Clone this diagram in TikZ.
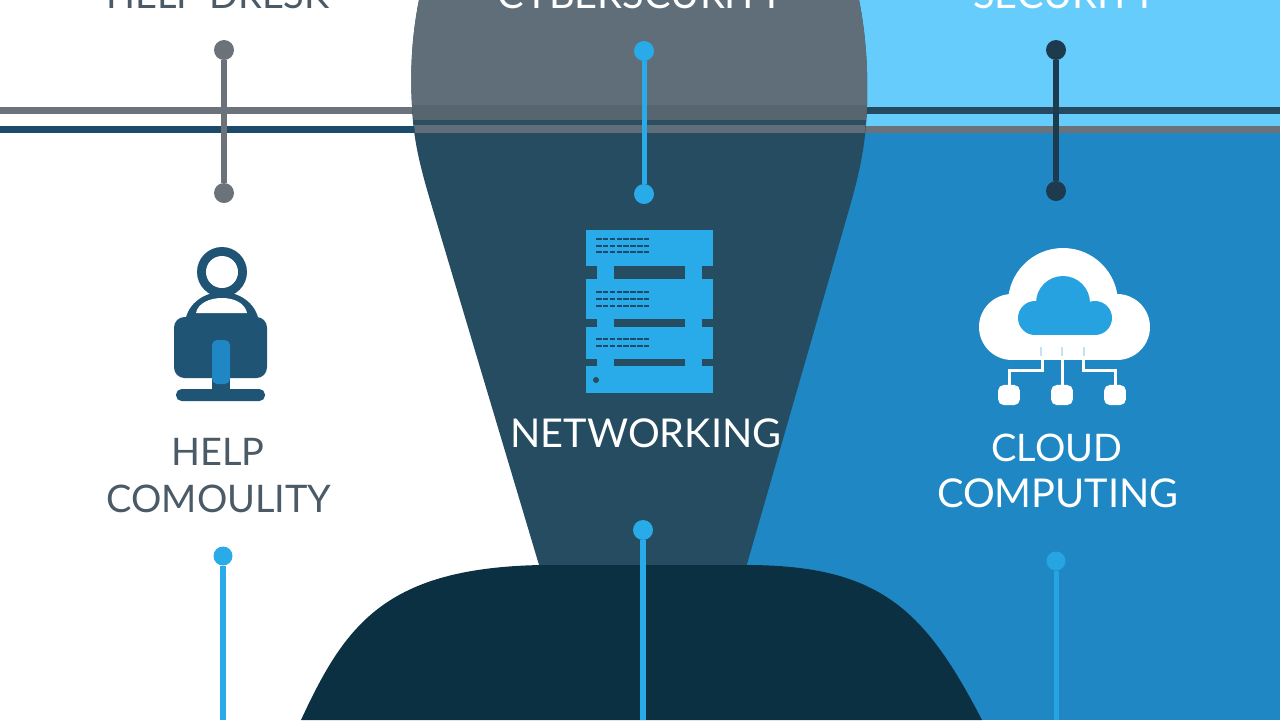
\documentclass[tikz,border=0pt]{standalone}
\usepackage{fontspec}
\setmainfont{Lato}
\usetikzlibrary{positioning}
\definecolor{skypanel}{RGB}{102,204,251}
\definecolor{bluepanel}{RGB}{31,136,196}
\definecolor{trunkgray}{RGB}{95,110,121}
\definecolor{trunkdark}{RGB}{37,76,96}
\definecolor{basedark}{RGB}{10,48,66}
\definecolor{accent}{RGB}{41,171,233}
\definecolor{slate}{RGB}{107,114,122}
\definecolor{navy}{RGB}{28,74,107}
\definecolor{inkdark}{RGB}{30,58,78}
\definecolor{iconblue}{RGB}{31,84,117}
\definecolor{textgray}{RGB}{74,90,102}

\begin{document}
\begin{tikzpicture}[x=0.1mm,y=-0.1mm,
  pindot/.style={circle, inner sep=0pt, outer sep=0pt, minimum size=#1*0.1mm},
  label/.style={font=\fontsize{10.8}{12}\selectfont, inner sep=0pt, anchor=base},
  widelabel/.style={font=\fontsize{11.3}{12}\selectfont, inner sep=0pt, anchor=base},
  pcbdot/.style={rectangle, rounded corners=1.6pt, fill=white, inner sep=0pt, outer sep=0pt, minimum width=6.2pt, minimum height=5.7pt},
  wire/.style={white, line width=0.3mm}]
\useasboundingbox (0,0) rectangle (1280,720);
\clip (0,0) rectangle (1280,720);
% Panels
\fill[white] (0,0) rectangle (1280,720);
\fill[skypanel] (640,0) rectangle (1280,133);
\fill[bluepanel] (640,133) rectangle (1280,720);
% Rails
\fill[slate] (0,107) rectangle (640,114);
\fill[navy] (0,126) rectangle (640,133);
\fill[inkdark!90!skypanel] (640,107) rectangle (1280,114);
\fill[slate] (640,126) rectangle (1280,133);
% Trunk
\fill[trunkdark] (419,0) .. controls (412,35) and (410,70) .. (412,105) .. controls (413,145) and (424,180) .. (436,220)
  -- (545,585) -- (741,585) -- (846,220) .. controls (857,182) and (866,150) .. (867,105) .. controls (868,70) and (866,35) .. (859,0) -- cycle;
\begin{scope}
\clip (419,0) .. controls (412,35) and (410,70) .. (412,105) -- (415,133) -- (865,133) -- (867,105) .. controls (868,70) and (866,35) .. (859,0) -- cycle;
\fill[trunkgray] (400,0) rectangle (880,133);
\fill[trunkgray!92!black] (400,105) rectangle (880,120);
\fill[trunkdark!90!trunkgray] (400,120) rectangle (880,125);
\end{scope}
% Base
\fill[basedark] (301,720) .. controls (345,625) and (385,568) .. (541,565) -- (746,565) .. controls (880,565) and (925,610) .. (982,720) -- cycle;
% Help desk column
\node[pindot=20, fill=slate] (deskA) at (224,50) {};
\node[pindot=20, fill=slate] (deskB) at (224,193) {};
\draw[slate, line width=0.65mm] (deskA) -- (deskB);
\node[label, text=textgray] (deskhead) at (218,8) {HELP DRESK};
% User icon
\fill[iconblue] (222,272) circle (25);
\fill[white] (222,272) circle (16);
\fill[iconblue] (185,325) arc (180:360:37 and 33) -- cycle;
\fill[white] (196,313) .. controls (198,303) and (210,298) .. (222,298) .. controls (234,298) and (245,303) .. (247,313) -- cycle;
\fill[iconblue, rounded corners=3pt] (174,317) rectangle (267,378);
\fill[iconblue] (212,370) rectangle (230,392);
\fill[iconblue, rounded corners=1.6pt] (176,389) rectangle (265,401);
\fill[bluepanel, rounded corners=1.5pt] (212,340) rectangle (230,384);
\node[label, text=textgray] (helpA) at (218,465) {HELP};
\node[label, text=textgray] (helpB) at (219,512) {COMOULITY};
\node[pindot=19, fill=accent] (helpdot) at (223,556) {};
\coordinate (helpend) at (223,720);
\draw[accent, line width=0.6mm] (helpdot) -- (helpend);
% Cybersecurity column
\node[pindot=20, fill=accent] (cyberA) at (644,51) {};
\node[pindot=20, fill=accent] (cyberB) at (644,194) {};
\draw[accent, line width=0.5mm] (cyberA) -- (cyberB);
\node[widelabel, text=white] (cyberhead) at (641,8) {CYBERSCURITY};
% Server icon
\fill[accent] (586,230) rectangle (713,393);
\foreach \ya/\yb in {266/279, 319/327, 359/366} {
  \fill[trunkdark] (586,\ya) rectangle (597,\yb);
  \fill[trunkdark] (614,\ya) rectangle (685,\yb);
  \fill[trunkdark] (702,\ya) rectangle (713,\yb);
}
\foreach \y in {239,246,252,292,299,306,339,346}
  \draw[navy, line width=0.14mm, dash pattern=on 1.6pt off 0.35pt] (596,\y) -- (649,\y);
\fill[trunkdark] (596,380) circle (3);
\node[widelabel, text=white] (netlabel) at (646,447.5) {NETWORKING};
\node[pindot=20, fill=accent] (netdot) at (643,530) {};
\coordinate (netend) at (643,720);
\draw[accent, line width=0.6mm] (netdot) -- (netend);
% Security column
\node[pindot=20, fill=inkdark] (secA) at (1056,50) {};
\node[pindot=20, fill=inkdark] (secB) at (1056,191) {};
\draw[inkdark, line width=0.6mm] (secA) -- (secB);
\node[widelabel, text=white] (sechead) at (1065,8) {SECURITY};
% Cloud icon
\fill[white] (1063,303) circle (55) (1012,327) circle (33) (1117,327) circle (33);
\fill[white] (1012,320) rectangle (1117,360);
\fill[accent!75!bluepanel] (1063,303) circle (27) (1035,318) circle (17) (1095,318) circle (17);
\fill[accent!75!bluepanel] (1035,310) rectangle (1095,335);
\foreach \x in {1041,1062,1084}
  \draw[white!75!bluepanel, line width=0.12mm] (\x,347) -- (\x,356);
\node[pcbdot] (pcbA) at (1009,395) {};
\node[pcbdot] (pcbB) at (1062,395) {};
\node[pcbdot] (pcbC) at (1115,395) {};
\coordinate (tapA) at (1042,358);
\coordinate (tapB) at (1062,358);
\coordinate (tapC) at (1083,358);
\draw[wire] (tapA) -- (1042,370) -| (pcbA);
\draw[wire] (tapB) -- (pcbB);
\draw[wire] (tapC) -- (1083,370) -| (pcbC);
\node[label, text=white] (cloudA) at (1057,461) {CLOUD};
\node[widelabel, text=white] (cloudB) at (1058,507) {COMPUTING};
\node[pindot=19, fill=accent!80!bluepanel] (clouddot) at (1056,561) {};
\coordinate (cloudend) at (1056,720);
\draw[accent!80!bluepanel, line width=0.5mm] (clouddot) -- (cloudend);
\end{tikzpicture}
\end{document}
